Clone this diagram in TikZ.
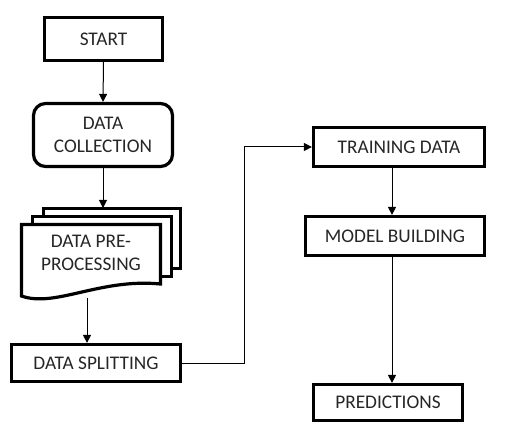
\documentclass[tikz,border=0pt]{standalone}
\usepackage{fontspec}
\setmainfont{Carlito}
\usetikzlibrary{arrows.meta}
\begin{document}
\begin{tikzpicture}[x=1pt,y=-1pt,
  box/.style={draw=black,line width=3.2pt,fill=white,inner sep=0pt,
    font=\fontsize{19.3}{23}\selectfont,text=black!85,align=center},
  arr/.style={draw=black,line width=1pt,-{Triangle[length=8pt,width=8pt]}},
  sheet/.style={draw=black,line width=3.2pt,fill=white,line join=miter}]
\useasboundingbox (0,0) rectangle (518,427);
% START
\node[box,minimum width=118pt,minimum height=43pt] (start) at (103.5,39) {START};
% DATA COLLECTION
\node[box,rounded corners=12pt,minimum width=139pt,minimum height=63pt] (dc) at (103,135) {DATA\\COLLECTION};
% DATA PRE-PROCESSING (multi-document)
\path[sheet] (43.5,208.5) rectangle (180.5,268.5);
\path[sheet] (32.5,216.5) rectangle (171.5,276.5);
\path[sheet] (21.5,224.5) -- (160.5,224.5) -- (160.5,284)
   .. controls (100,278) and (55,308) .. (21.5,296) -- cycle;
\node[box,draw=none,fill=none] (dpp) at (91,253) {DATA PRE-\\PROCESSING};
\coordinate (dpptop) at (103,208);
\coordinate (dppbot) at (87,298);
% DATA SPLITTING
\node[box,minimum width=169pt,minimum height=37pt] (ds) at (96,363) {DATA SPLITTING};
% TRAINING DATA
\node[box,minimum width=171pt,minimum height=39pt] (td) at (399,147) {TRAINING DATA};
% MODEL BUILDING
\node[box,minimum width=179pt,minimum height=39pt] (mb) at (395,236) {MODEL BUILDING};
% PREDICTIONS
\node[box,minimum width=149pt,minimum height=36pt] (pred) at (388,402.5) {PREDICTIONS};
% connectors
\draw[arr] (start.south) -- (dc.north);
\draw[arr] (dc.south) -- (dpptop);
\draw[arr] (dppbot) -- (ds.north -| dppbot);
\coordinate (turn) at (244,363);
\draw[arr] (ds.east) -- (turn) |- (td.west);
\draw[arr] ([xshift=-7pt]td.south) -- ([xshift=-3pt]mb.north);
\draw[arr] ([xshift=-3pt]mb.south) -- ([xshift=4pt]pred.north);
\end{tikzpicture}
\end{document}
